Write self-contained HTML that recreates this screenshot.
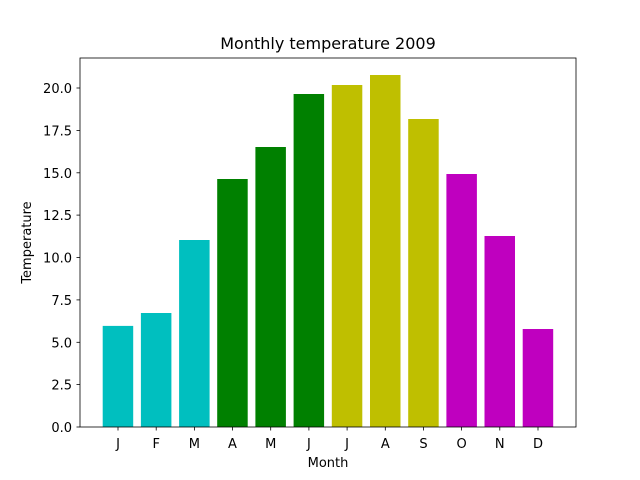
<!DOCTYPE html>
<html><head><style>body{margin:0;background:#fff}svg{display:block}text{font-family:"DejaVu Sans","Liberation Sans",sans-serif;fill:#000}</style></head>
<body>
<svg width="640" height="480" viewBox="0 0 640 480">
<rect width="640" height="480" fill="#fff"/>
<g>
<rect x="102.7" y="325.9" width="30.5" height="101.1" fill="#00bfbf"/>
<rect x="140.9" y="313.0" width="30.5" height="114.0" fill="#00bfbf"/>
<rect x="179.1" y="240.0" width="30.5" height="187.0" fill="#00bfbf"/>
<rect x="217.2" y="179.0" width="30.5" height="248.0" fill="#008000"/>
<rect x="255.4" y="147.0" width="30.5" height="280.0" fill="#008000"/>
<rect x="293.6" y="94.0" width="30.5" height="333.0" fill="#008000"/>
<rect x="331.8" y="85.0" width="30.5" height="342.0" fill="#bfbf00"/>
<rect x="370.0" y="75.0" width="30.5" height="352.0" fill="#bfbf00"/>
<rect x="408.2" y="119.0" width="30.5" height="308.0" fill="#bfbf00"/>
<rect x="446.4" y="174.0" width="30.5" height="253.0" fill="#bf00bf"/>
<rect x="484.5" y="236.0" width="30.5" height="191.0" fill="#bf00bf"/>
<rect x="522.7" y="329.0" width="30.5" height="98.0" fill="#bf00bf"/>
</g>
<rect x="80" y="58" width="496" height="369" fill="none" stroke="#000" stroke-width="0.8"/>
<g stroke="#000" stroke-width="0.8">
<line x1="118" y1="427" x2="118" y2="430.5"/><line x1="156.2" y1="427" x2="156.2" y2="430.5"/><line x1="194.4" y1="427" x2="194.4" y2="430.5"/><line x1="232.5" y1="427" x2="232.5" y2="430.5"/><line x1="270.7" y1="427" x2="270.7" y2="430.5"/><line x1="308.9" y1="427" x2="308.9" y2="430.5"/><line x1="347.1" y1="427" x2="347.1" y2="430.5"/><line x1="385.3" y1="427" x2="385.3" y2="430.5"/><line x1="423.5" y1="427" x2="423.5" y2="430.5"/><line x1="461.6" y1="427" x2="461.6" y2="430.5"/><line x1="499.8" y1="427" x2="499.8" y2="430.5"/><line x1="538" y1="427" x2="538" y2="430.5"/>
<line x1="76.5" y1="427" x2="80" y2="427"/><line x1="76.5" y1="384.6" x2="80" y2="384.6"/><line x1="76.5" y1="342.3" x2="80" y2="342.3"/><line x1="76.5" y1="299.9" x2="80" y2="299.9"/><line x1="76.5" y1="257.5" x2="80" y2="257.5"/><line x1="76.5" y1="215.1" x2="80" y2="215.1"/><line x1="76.5" y1="172.8" x2="80" y2="172.8"/><line x1="76.5" y1="130.4" x2="80" y2="130.4"/><line x1="76.5" y1="88" x2="80" y2="88"/>
</g>
<g font-size="13" text-anchor="middle">
<text x="118" y="448">J</text><text x="156.2" y="448">F</text><text x="194.4" y="448">M</text><text x="232.5" y="448">A</text><text x="270.7" y="448">M</text><text x="308.9" y="448">J</text><text x="347.1" y="448">J</text><text x="385.3" y="448">A</text><text x="423.5" y="448">S</text><text x="461.6" y="448">O</text><text x="499.8" y="448">N</text><text x="538" y="448">D</text>
</g>
<g font-size="13" text-anchor="end">
<text x="72" y="432">0.0</text><text x="72" y="389.6">2.5</text><text x="72" y="347.3">5.0</text><text x="72" y="304.9">7.5</text><text x="72" y="262.5">10.0</text><text x="72" y="220.1">12.5</text><text x="72" y="177.8">15.0</text><text x="72" y="135.4">17.5</text><text x="72" y="93">20.0</text>
</g>
<text x="328" y="467" font-size="13" text-anchor="middle">Month</text>
<text transform="translate(31,242.5) rotate(-90)" font-size="13" text-anchor="middle">Temperature</text>
<text x="328" y="49" font-size="16" text-anchor="middle">Monthly temperature 2009</text>
</svg>
</body></html>
